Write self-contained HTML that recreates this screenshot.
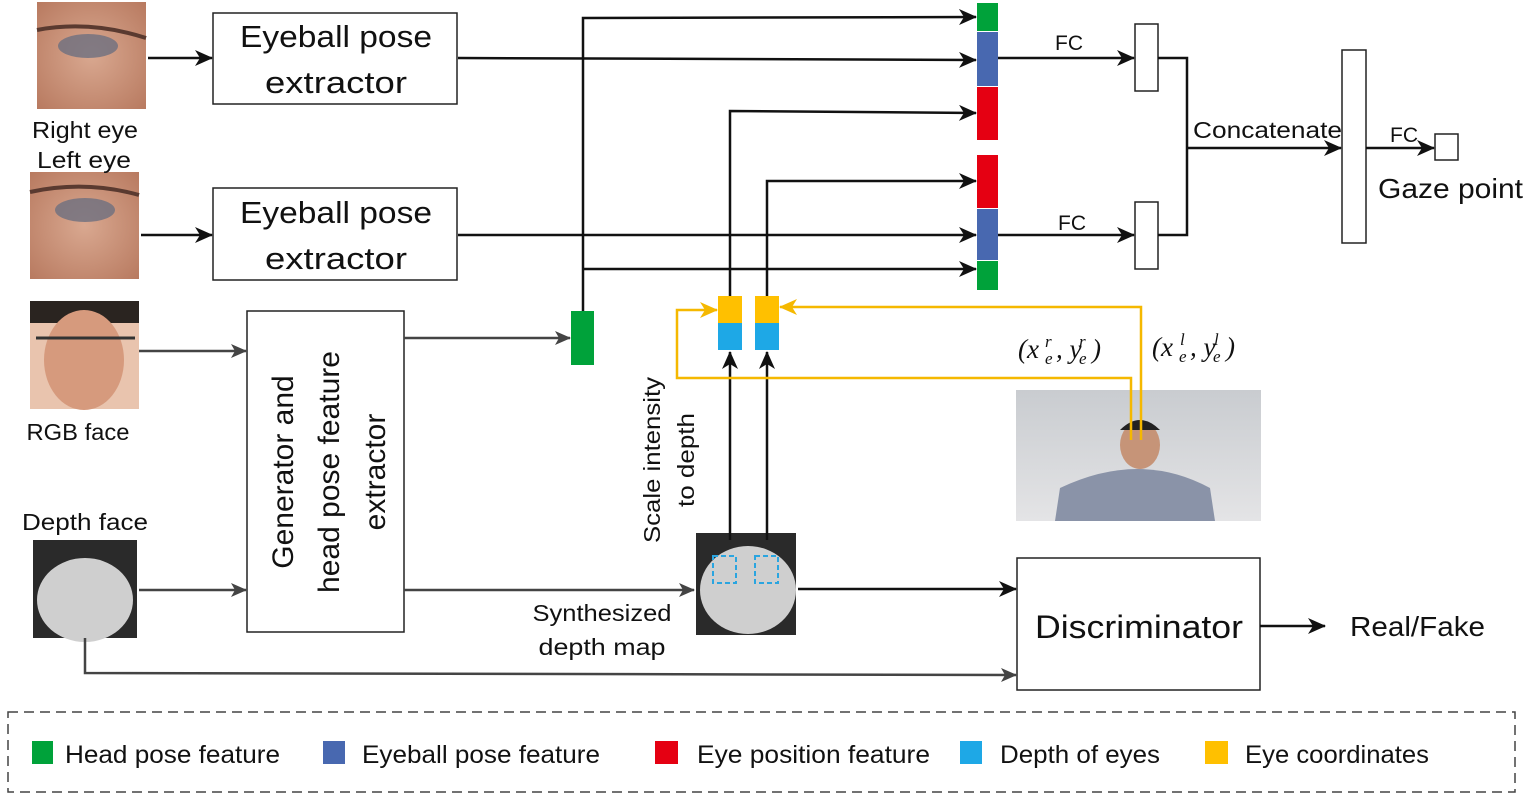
<!DOCTYPE html>
<html><head><meta charset="utf-8"><style>
html,body{margin:0;padding:0;background:#fff}
svg{display:block}
text{font-family:"Liberation Sans","DejaVu Sans",sans-serif;fill:#111}
.m{font-family:"Liberation Serif",serif;font-style:italic}
</style></head><body>
<svg width="1526" height="797" viewBox="0 0 1526 797" xmlns="http://www.w3.org/2000/svg">
<defs>
<marker id="a" markerWidth="18" markerHeight="16" refX="17" refY="8" orient="auto" markerUnits="userSpaceOnUse" viewBox="0 0 18 16"><path d="M0,0 L18,8 L0,16 L5,8z" fill="#111"/></marker>
<marker id="ag" markerWidth="16" markerHeight="14" refX="15" refY="7" orient="auto" markerUnits="userSpaceOnUse" viewBox="0 0 16 14"><path d="M0,0 L16,7 L0,14 L4,7z" fill="#444"/></marker>
<marker id="ay" markerWidth="18" markerHeight="16" refX="17" refY="8" orient="auto" markerUnits="userSpaceOnUse" viewBox="0 0 18 16"><path d="M0,0 L18,8 L0,16 L5,8z" fill="#f5b800"/></marker>
<radialGradient id="skin" cx="50%" cy="50%" r="70%"><stop offset="0" stop-color="#d9a890"/><stop offset="1" stop-color="#b87a60"/></radialGradient>
<linearGradient id="room" x1="0" y1="0" x2="0" y2="1"><stop offset="0" stop-color="#c9ccd0"/><stop offset="1" stop-color="#e4e4e6"/></linearGradient>
</defs>
<rect x="37" y="2" width="109" height="107" fill="url(#skin)"/>
<ellipse cx="88" cy="46" rx="30" ry="12" fill="#6d6f80" opacity="0.8"/>
<path d="M37,30 Q90,20 146,38" stroke="#5a3a30" stroke-width="4" fill="none"/>
<rect x="30" y="172" width="109" height="107" fill="url(#skin)"/>
<ellipse cx="85" cy="210" rx="30" ry="12" fill="#6d6f80" opacity="0.8"/>
<path d="M30,192 Q85,180 139,195" stroke="#5a3a30" stroke-width="4" fill="none"/>
<rect x="30" y="301" width="109" height="108" fill="#e9c4ae"/>
<rect x="30" y="301" width="109" height="22" fill="#2a2420"/>
<ellipse cx="84" cy="360" rx="40" ry="50" fill="#d69a7d"/>
<line x1="36" y1="338" x2="135" y2="338" stroke="#333" stroke-width="3"/>
<rect x="33" y="540" width="104" height="98" fill="#2a2a2a"/>
<ellipse cx="85" cy="600" rx="48" ry="42" fill="#cfcfcf"/>
<rect x="696" y="533" width="100" height="102" fill="#2a2a2a"/>
<ellipse cx="748" cy="590" rx="48" ry="44" fill="#cfcfcf"/>
<rect x="713" y="556" width="23" height="27" fill="none" stroke="#2aa5e0" stroke-width="2" stroke-dasharray="5,3"/>
<rect x="755" y="556" width="23" height="27" fill="none" stroke="#2aa5e0" stroke-width="2" stroke-dasharray="5,3"/>
<rect x="1016" y="390" width="245" height="131" fill="url(#room)"/>
<path d="M1060,488 Q1140,450 1210,488 L1215,521 L1055,521z" fill="#8a93a8"/>
<ellipse cx="1140" cy="445" rx="20" ry="24" fill="#c69478"/>
<path d="M1120,430 Q1140,410 1160,430" fill="#222"/>
<g fill="none" stroke="#222" stroke-width="1.5">
<rect x="213" y="13" width="244" height="91"/>
<rect x="213" y="188" width="244" height="92"/>
<rect x="247" y="311" width="157" height="321"/>
<rect x="1017" y="558" width="243" height="132"/>
<rect x="1135" y="24" width="23" height="67"/>
<rect x="1135" y="202" width="23" height="67"/>
<rect x="1342" y="50" width="24" height="193"/>
<rect x="1435" y="134" width="23" height="26"/>
<rect x="8" y="712" width="1507" height="80" stroke-dasharray="10,6" stroke="#444"/>
</g>
<g lengthAdjust="spacingAndGlyphs">
<text x="336" y="47" font-size="31" text-anchor="middle" textLength="192" lengthAdjust="spacingAndGlyphs">Eyeball pose</text>
<text x="336" y="93" font-size="31" text-anchor="middle" textLength="142" lengthAdjust="spacingAndGlyphs">extractor</text>
<text x="336" y="223" font-size="31" text-anchor="middle" textLength="192" lengthAdjust="spacingAndGlyphs">Eyeball pose</text>
<text x="336" y="269" font-size="31" text-anchor="middle" textLength="142" lengthAdjust="spacingAndGlyphs">extractor</text>
</g>
<g font-size="30" text-anchor="middle">
<text transform="translate(293,472) rotate(-90)">Generator and</text>
<text transform="translate(339,472) rotate(-90)">head pose feature</text>
<text transform="translate(385,472) rotate(-90)">extractor</text>
</g>
<text x="1139" y="638" font-size="32" text-anchor="middle" textLength="208" lengthAdjust="spacingAndGlyphs">Discriminator</text>
<text x="1350" y="636" font-size="28" textLength="135" lengthAdjust="spacingAndGlyphs">Real/Fake</text>
<text x="85" y="138" font-size="23" text-anchor="middle" textLength="106" lengthAdjust="spacingAndGlyphs">Right eye</text>
<text x="84" y="168" font-size="23" text-anchor="middle" textLength="94" lengthAdjust="spacingAndGlyphs">Left eye</text>
<text x="78" y="440" font-size="23" text-anchor="middle" textLength="103" lengthAdjust="spacingAndGlyphs">RGB face</text>
<text x="85" y="530" font-size="23" text-anchor="middle" textLength="126" lengthAdjust="spacingAndGlyphs">Depth face</text>
<text x="602" y="621" font-size="23" text-anchor="middle" textLength="139" lengthAdjust="spacingAndGlyphs">Synthesized</text>
<text x="602" y="655" font-size="23" text-anchor="middle" textLength="127" lengthAdjust="spacingAndGlyphs">depth map</text>
<text transform="translate(660,460) rotate(-90)" font-size="23" text-anchor="middle" textLength="166" lengthAdjust="spacingAndGlyphs">Scale intensity</text>
<text transform="translate(694,460) rotate(-90)" font-size="23" text-anchor="middle" textLength="94" lengthAdjust="spacingAndGlyphs">to depth</text>
<text x="1055" y="50" font-size="21">FC</text>
<text x="1058" y="230" font-size="21">FC</text>
<text x="1193" y="138" font-size="23" textLength="149" lengthAdjust="spacingAndGlyphs">Concatenate</text>
<text x="1390" y="142" font-size="21">FC</text>
<text x="1378" y="198" font-size="28" textLength="145" lengthAdjust="spacingAndGlyphs">Gaze point</text>
<text class="m" x="1018" y="358" font-size="27">(x</text>
<text class="m" x="1045" y="347" font-size="17">r</text>
<text class="m" x="1045" y="364" font-size="17">e</text>
<text class="m" x="1056" y="358" font-size="27">, y</text>
<text class="m" x="1079" y="347" font-size="17">r</text>
<text class="m" x="1079" y="364" font-size="17">e</text>
<text class="m" x="1092" y="358" font-size="27">)</text>
<text class="m" x="1152" y="356" font-size="27">(x</text>
<text class="m" x="1180" y="345" font-size="17">l</text>
<text class="m" x="1179" y="362" font-size="17">e</text>
<text class="m" x="1190" y="356" font-size="27">, y</text>
<text class="m" x="1214" y="345" font-size="17">l</text>
<text class="m" x="1213" y="362" font-size="17">e</text>
<text class="m" x="1226" y="356" font-size="27">)</text>
<rect x="977" y="3" width="21" height="28" fill="#00a23a"/>
<rect x="977" y="32" width="21" height="54" fill="#4868b0"/>
<rect x="977" y="87" width="21" height="53" fill="#e50012"/>
<rect x="977" y="155" width="21" height="53" fill="#e50012"/>
<rect x="977" y="209" width="21" height="51" fill="#4868b0"/>
<rect x="977" y="261" width="21" height="29" fill="#00a23a"/>
<rect x="571" y="311" width="23" height="54" fill="#00a23a"/>
<rect x="718" y="296" width="24" height="27" fill="#ffc000"/>
<rect x="718" y="323" width="24" height="27" fill="#1ea8e6"/>
<rect x="755" y="296" width="24" height="27" fill="#ffc000"/>
<rect x="755" y="323" width="24" height="27" fill="#1ea8e6"/>
<g stroke="#111" stroke-width="2.5" fill="none">
<line x1="148" y1="58" x2="212" y2="58" marker-end="url(#a)"/>
<line x1="141" y1="235" x2="212" y2="235" marker-end="url(#a)"/>
<line x1="458" y1="58" x2="976" y2="60" marker-end="url(#a)"/>
<line x1="458" y1="235" x2="976" y2="235" marker-end="url(#a)"/>
<polyline points="583,311 583,18 976,17" marker-end="url(#a)"/>
<polyline points="583,269 976,269" marker-end="url(#a)"/>
<polyline points="730,296 730,111 976,113" marker-end="url(#a)"/>
<polyline points="767,296 767,181 976,181" marker-end="url(#a)"/>
<line x1="730" y1="540" x2="730" y2="352" marker-end="url(#a)"/>
<line x1="767" y1="540" x2="767" y2="352" marker-end="url(#a)"/>
<line x1="998" y1="58" x2="1134" y2="58" marker-end="url(#a)"/>
<line x1="998" y1="235" x2="1134" y2="235" marker-end="url(#a)"/>
<polyline points="1158,58 1187,58 1187,235 1158,235"/>
<line x1="1187" y1="148" x2="1341" y2="148" marker-end="url(#a)"/>
<line x1="1366" y1="148" x2="1434" y2="148" marker-end="url(#a)"/>
<line x1="798" y1="589" x2="1016" y2="589" marker-end="url(#a)"/>
<line x1="1260" y1="626" x2="1325" y2="626" marker-end="url(#a)"/>
</g>
<g stroke="#444" stroke-width="2.5" fill="none">
<line x1="139" y1="351" x2="246" y2="351" marker-end="url(#ag)"/>
<line x1="139" y1="590" x2="246" y2="590" marker-end="url(#ag)"/>
<line x1="404" y1="338" x2="570" y2="338" marker-end="url(#ag)"/>
<line x1="404" y1="590" x2="694" y2="590" marker-end="url(#ag)"/>
<polyline points="85,638 85,673 1016,675" marker-end="url(#ag)"/>
</g>
<g stroke="#f5b800" stroke-width="2.5" fill="none">
<polyline points="1131,440 1131,378 677,378 677,310 717,310" marker-end="url(#ay)"/>
<polyline points="1141,440 1141,307 780,307" marker-end="url(#ay)"/>
</g>
<rect x="32" y="741" width="21" height="23" fill="#00a23a"/>
<text x="65" y="763" font-size="25" textLength="215" lengthAdjust="spacingAndGlyphs">Head pose feature</text>
<rect x="323" y="741" width="22" height="23" fill="#4868b0"/>
<text x="362" y="763" font-size="25" textLength="238" lengthAdjust="spacingAndGlyphs">Eyeball pose feature</text>
<rect x="655" y="741" width="23" height="23" fill="#e50012"/>
<text x="697" y="763" font-size="25" textLength="233" lengthAdjust="spacingAndGlyphs">Eye position feature</text>
<rect x="960" y="741" width="22" height="23" fill="#1ea8e6"/>
<text x="1000" y="763" font-size="25" textLength="160" lengthAdjust="spacingAndGlyphs">Depth of eyes</text>
<rect x="1205" y="741" width="23" height="23" fill="#ffc000"/>
<text x="1245" y="763" font-size="25" textLength="184" lengthAdjust="spacingAndGlyphs">Eye coordinates</text>
</svg>
</body></html>
